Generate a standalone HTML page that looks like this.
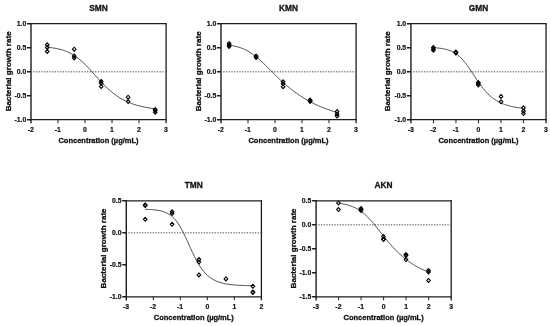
<!DOCTYPE html>
<html><head><meta charset="utf-8"><title>Dose response curves</title>
<style>html,body{margin:0;padding:0;background:#fff}body{width:550px;height:326px;overflow:hidden}</style></head>
<body>
<svg width="550" height="326" viewBox="0 0 550 326" style="display:block;filter:blur(0.32px);font-family:'Liberation Sans',sans-serif;font-weight:bold" fill="#111" stroke="#111" stroke-width="0">
<rect width="550" height="326" fill="#fff"/>
<g>
<line x1="33.2" y1="71.80" x2="165.5" y2="71.80" stroke="#808080" stroke-width="1.5" stroke-dasharray="1.25 1.44"/>
<path d="M47.20 47.23 L49.03 47.42 L50.85 47.64 L52.68 47.89 L54.51 48.18 L56.34 48.51 L58.16 48.89 L59.99 49.33 L61.82 49.83 L63.64 50.41 L65.47 51.05 L67.30 51.79 L69.13 52.61 L70.95 53.54 L72.78 54.57 L74.61 55.71 L76.43 56.96 L78.26 58.33 L80.09 59.81 L81.92 61.41 L83.74 63.11 L85.57 64.90 L87.40 66.78 L89.22 68.73 L91.05 70.73 L92.88 72.77 L94.71 74.82 L96.53 76.87 L98.36 78.91 L100.19 80.91 L102.01 82.87 L103.84 84.76 L105.67 86.58 L107.49 88.33 L109.32 89.99 L111.15 91.56 L112.98 93.05 L114.80 94.45 L116.63 95.75 L118.46 96.97 L120.28 98.11 L122.11 99.17 L123.94 100.15 L125.77 101.05 L127.59 101.89 L129.42 102.66 L131.25 103.38 L133.07 104.03 L134.90 104.64 L136.73 105.19 L138.56 105.70 L140.38 106.17 L142.21 106.60 L144.04 107.00 L145.86 107.36 L147.69 107.69 L149.52 108.00 L151.35 108.28 L153.17 108.53 L155.00 108.77" fill="none" stroke="#484848" stroke-width="0.95"/>
<path d="M47.2 42.85L49.00 44.8L47.2 46.75L45.40 44.8Z" fill="none" stroke="#000" stroke-width="1.1"/>
<path d="M47.2 45.45L49.00 47.4L47.2 49.35L45.40 47.4Z" fill="none" stroke="#000" stroke-width="1.1"/>
<path d="M47.2 49.45L49.00 51.4L47.2 53.35L45.40 51.4Z" fill="none" stroke="#000" stroke-width="1.1"/>
<path d="M74.2 47.25L76.00 49.2L74.2 51.15L72.40 49.2Z" fill="none" stroke="#000" stroke-width="1.1"/>
<path d="M74.2 54.05L76.00 56.0L74.2 57.95L72.40 56.0Z" fill="none" stroke="#000" stroke-width="1.1"/>
<path d="M74.2 55.95L76.00 57.9L74.2 59.85L72.40 57.9Z" fill="none" stroke="#000" stroke-width="1.1"/>
<path d="M101.2 79.45L103.00 81.4L101.2 83.35L99.40 81.4Z" fill="none" stroke="#000" stroke-width="1.1"/>
<path d="M101.2 81.35L103.00 83.3L101.2 85.25L99.40 83.3Z" fill="none" stroke="#000" stroke-width="1.1"/>
<path d="M101.2 84.55L103.00 86.5L101.2 88.45L99.40 86.5Z" fill="none" stroke="#000" stroke-width="1.1"/>
<path d="M128.1 95.25L129.90 97.2L128.1 99.15L126.30 97.2Z" fill="none" stroke="#000" stroke-width="1.1"/>
<path d="M128.1 99.65L129.90 101.6L128.1 103.55L126.30 101.6Z" fill="none" stroke="#000" stroke-width="1.1"/>
<path d="M155.2 107.55L157.00 109.5L155.2 111.45L153.40 109.5Z" fill="none" stroke="#000" stroke-width="1.1"/>
<path d="M155.2 108.65L157.00 110.6L155.2 112.55L153.40 110.6Z" fill="none" stroke="#000" stroke-width="1.1"/>
<path d="M155.2 110.25L157.00 112.2L155.2 114.15L153.40 112.2Z" fill="none" stroke="#000" stroke-width="1.1"/>
<path d="M30.40 23.72H166.60" stroke="#1c1c1c" stroke-width="1.25" fill="none"/>
<path d="M30.40 119.72H166.60" stroke="#1c1c1c" stroke-width="1.25" fill="none"/>
<path d="M31.00 23.22V123.3" stroke="#1c1c1c" stroke-width="1.4" fill="none"/>
<path d="M166.10 23.22V123.3" stroke="#1c1c1c" stroke-width="1.3" fill="none"/>
<path d="M27.0 23.72H31.0M27.0 47.72H31.0M27.0 71.72H31.0M27.0 95.72H31.0M27.0 119.72H31.0" stroke="#1c1c1c" stroke-width="1.35" fill="none"/>
<path d="M58.00 119.72V123.22M85.00 119.72V123.22M112.00 119.72V123.22M139.00 119.72V123.22" stroke="#2a2a2a" stroke-width="1.05" fill="none"/>
<text transform="translate(26.20 26.07) scale(0.9375 1)" font-size="7.3" text-anchor="end" stroke-width="0.22">1.0</text>
<text transform="translate(26.20 50.07) scale(0.9375 1)" font-size="7.3" text-anchor="end" stroke-width="0.22">0.5</text>
<text transform="translate(26.20 74.07) scale(0.9375 1)" font-size="7.3" text-anchor="end" stroke-width="0.22">0.0</text>
<text transform="translate(26.20 98.07) scale(0.9375 1)" font-size="7.3" text-anchor="end" stroke-width="0.22">-0.5</text>
<text transform="translate(26.20 122.07) scale(0.9375 1)" font-size="7.3" text-anchor="end" stroke-width="0.22">-1.0</text>
<text transform="translate(30.80 131.72) scale(0.9375 1)" font-size="7.3" text-anchor="middle" stroke-width="0.22">-2</text>
<text transform="translate(57.80 131.72) scale(0.9375 1)" font-size="7.3" text-anchor="middle" stroke-width="0.22">-1</text>
<text transform="translate(85.00 131.72) scale(0.9375 1)" font-size="7.3" text-anchor="middle" stroke-width="0.22">0</text>
<text transform="translate(112.00 131.72) scale(0.9375 1)" font-size="7.3" text-anchor="middle" stroke-width="0.22">1</text>
<text transform="translate(139.00 131.72) scale(0.9375 1)" font-size="7.3" text-anchor="middle" stroke-width="0.22">2</text>
<text transform="translate(166.00 131.72) scale(0.9375 1)" font-size="7.3" text-anchor="middle" stroke-width="0.22">3</text>
<text transform="translate(98.50 143.22) scale(0.9375 1)" font-size="8.0" text-anchor="middle" stroke-width="0.3">Concentration (µg/mL)</text>
<text transform="translate(10.50 71.37) rotate(-90) scale(1 0.97)" font-size="8.05" text-anchor="middle" stroke-width="0.3">Bacterial growth rate</text>
<text transform="translate(98.50 10.77) scale(0.9375 1)" font-size="8.9" text-anchor="middle" stroke-width="0.3">SMN</text>
</g>
<g>
<line x1="223.2" y1="71.80" x2="355.5" y2="71.80" stroke="#808080" stroke-width="1.5" stroke-dasharray="1.25 1.44"/>
<path d="M229.00 45.09 L230.83 45.37 L232.66 45.70 L234.49 46.07 L236.32 46.51 L238.15 47.01 L239.98 47.59 L241.81 48.25 L243.64 48.99 L245.47 49.83 L247.31 50.78 L249.14 51.82 L250.97 52.97 L252.80 54.22 L254.63 55.58 L256.46 57.03 L258.29 58.57 L260.12 60.19 L261.95 61.87 L263.78 63.61 L265.61 65.40 L267.44 67.21 L269.27 69.04 L271.10 70.88 L272.93 72.71 L274.76 74.53 L276.59 76.33 L278.42 78.10 L280.25 79.83 L282.08 81.53 L283.92 83.18 L285.75 84.79 L287.58 86.35 L289.41 87.86 L291.24 89.32 L293.07 90.74 L294.90 92.10 L296.73 93.42 L298.56 94.69 L300.39 95.91 L302.22 97.09 L304.05 98.22 L305.88 99.31 L307.71 100.36 L309.54 101.37 L311.37 102.34 L313.20 103.27 L315.03 104.17 L316.86 105.03 L318.69 105.86 L320.53 106.65 L322.36 107.41 L324.19 108.14 L326.02 108.85 L327.85 109.52 L329.68 110.17 L331.51 110.80 L333.34 111.39 L335.17 111.97 L337.00 112.52" fill="none" stroke="#484848" stroke-width="0.95"/>
<path d="M229.1 41.55L230.90 43.5L229.1 45.45L227.30 43.5Z" fill="none" stroke="#000" stroke-width="1.1"/>
<path d="M229.1 43.05L230.90 45.0L229.1 46.95L227.30 45.0Z" fill="none" stroke="#000" stroke-width="1.1"/>
<path d="M229.1 44.55L230.90 46.5L229.1 48.45L227.30 46.5Z" fill="none" stroke="#000" stroke-width="1.1"/>
<path d="M256.1 54.05L257.90 56.0L256.1 57.95L254.30 56.0Z" fill="none" stroke="#000" stroke-width="1.1"/>
<path d="M256.1 54.85L257.90 56.8L256.1 58.75L254.30 56.8Z" fill="none" stroke="#000" stroke-width="1.1"/>
<path d="M256.1 55.65L257.90 57.6L256.1 59.55L254.30 57.6Z" fill="none" stroke="#000" stroke-width="1.1"/>
<path d="M283.1 79.85L284.90 81.8L283.1 83.75L281.30 81.8Z" fill="none" stroke="#000" stroke-width="1.1"/>
<path d="M283.1 81.75L284.90 83.7L283.1 85.65L281.30 83.7Z" fill="none" stroke="#000" stroke-width="1.1"/>
<path d="M283.1 84.75L284.90 86.7L283.1 88.65L281.30 86.7Z" fill="none" stroke="#000" stroke-width="1.1"/>
<path d="M310.1 98.05L311.90 100.0L310.1 101.95L308.30 100.0Z" fill="none" stroke="#000" stroke-width="1.1"/>
<path d="M310.1 98.85L311.90 100.8L310.1 102.75L308.30 100.8Z" fill="none" stroke="#000" stroke-width="1.1"/>
<path d="M310.1 99.65L311.90 101.6L310.1 103.55L308.30 101.6Z" fill="none" stroke="#000" stroke-width="1.1"/>
<path d="M337.1 109.55L338.90 111.5L337.1 113.45L335.30 111.5Z" fill="none" stroke="#000" stroke-width="1.1"/>
<path d="M337.1 112.05L338.90 114.0L337.1 115.95L335.30 114.0Z" fill="none" stroke="#000" stroke-width="1.1"/>
<path d="M337.1 114.05L338.90 116.0L337.1 117.95L335.30 116.0Z" fill="none" stroke="#000" stroke-width="1.1"/>
<path d="M220.40 23.72H356.60" stroke="#1c1c1c" stroke-width="1.25" fill="none"/>
<path d="M220.40 119.72H356.60" stroke="#1c1c1c" stroke-width="1.25" fill="none"/>
<path d="M221.00 23.22V123.3" stroke="#1c1c1c" stroke-width="1.4" fill="none"/>
<path d="M356.10 23.22V123.3" stroke="#1c1c1c" stroke-width="1.3" fill="none"/>
<path d="M217.0 23.72H221.0M217.0 47.72H221.0M217.0 71.72H221.0M217.0 95.72H221.0M217.0 119.72H221.0" stroke="#1c1c1c" stroke-width="1.35" fill="none"/>
<path d="M248.00 119.72V123.22M275.00 119.72V123.22M302.00 119.72V123.22M329.00 119.72V123.22" stroke="#2a2a2a" stroke-width="1.05" fill="none"/>
<text transform="translate(216.20 26.07) scale(0.9375 1)" font-size="7.3" text-anchor="end" stroke-width="0.22">1.0</text>
<text transform="translate(216.20 50.07) scale(0.9375 1)" font-size="7.3" text-anchor="end" stroke-width="0.22">0.5</text>
<text transform="translate(216.20 74.07) scale(0.9375 1)" font-size="7.3" text-anchor="end" stroke-width="0.22">0.0</text>
<text transform="translate(216.20 98.07) scale(0.9375 1)" font-size="7.3" text-anchor="end" stroke-width="0.22">-0.5</text>
<text transform="translate(216.20 122.07) scale(0.9375 1)" font-size="7.3" text-anchor="end" stroke-width="0.22">-1.0</text>
<text transform="translate(220.80 131.72) scale(0.9375 1)" font-size="7.3" text-anchor="middle" stroke-width="0.22">-2</text>
<text transform="translate(247.80 131.72) scale(0.9375 1)" font-size="7.3" text-anchor="middle" stroke-width="0.22">-1</text>
<text transform="translate(275.00 131.72) scale(0.9375 1)" font-size="7.3" text-anchor="middle" stroke-width="0.22">0</text>
<text transform="translate(302.00 131.72) scale(0.9375 1)" font-size="7.3" text-anchor="middle" stroke-width="0.22">1</text>
<text transform="translate(329.00 131.72) scale(0.9375 1)" font-size="7.3" text-anchor="middle" stroke-width="0.22">2</text>
<text transform="translate(356.00 131.72) scale(0.9375 1)" font-size="7.3" text-anchor="middle" stroke-width="0.22">3</text>
<text transform="translate(288.50 143.22) scale(0.9375 1)" font-size="8.0" text-anchor="middle" stroke-width="0.3">Concentration (µg/mL)</text>
<text transform="translate(200.50 71.37) rotate(-90) scale(1 0.97)" font-size="8.05" text-anchor="middle" stroke-width="0.3">Bacterial growth rate</text>
<text transform="translate(288.50 10.77) scale(0.9375 1)" font-size="8.9" text-anchor="middle" stroke-width="0.3">KMN</text>
</g>
<g>
<line x1="413.1" y1="71.80" x2="545.5" y2="71.80" stroke="#808080" stroke-width="1.5" stroke-dasharray="1.25 1.44"/>
<path d="M433.30 47.65 L434.81 47.75 L436.32 47.87 L437.84 48.01 L439.35 48.18 L440.86 48.37 L442.37 48.61 L443.88 48.89 L445.39 49.22 L446.91 49.61 L448.42 50.07 L449.93 50.60 L451.44 51.23 L452.95 51.96 L454.47 52.79 L455.98 53.76 L457.49 54.85 L459.00 56.09 L460.51 57.48 L462.03 59.02 L463.54 60.71 L465.05 62.55 L466.56 64.52 L468.07 66.60 L469.58 68.78 L471.10 71.04 L472.61 73.34 L474.12 75.65 L475.63 77.95 L477.14 80.22 L478.66 82.42 L480.17 84.55 L481.68 86.58 L483.19 88.51 L484.70 90.32 L486.22 92.02 L487.73 93.60 L489.24 95.06 L490.75 96.41 L492.26 97.65 L493.77 98.79 L495.29 99.83 L496.80 100.77 L498.31 101.63 L499.82 102.42 L501.33 103.13 L502.85 103.77 L504.36 104.36 L505.87 104.88 L507.38 105.36 L508.89 105.79 L510.41 106.18 L511.92 106.54 L513.43 106.86 L514.94 107.14 L516.45 107.40 L517.96 107.64 L519.48 107.85 L520.99 108.04 L522.50 108.21" fill="none" stroke="#484848" stroke-width="0.95"/>
<path d="M433.4 45.65L435.20 47.6L433.4 49.55L431.60 47.6Z" fill="none" stroke="#000" stroke-width="1.1"/>
<path d="M433.4 47.05L435.20 49.0L433.4 50.95L431.60 49.0Z" fill="none" stroke="#000" stroke-width="1.1"/>
<path d="M433.4 48.25L435.20 50.2L433.4 52.15L431.60 50.2Z" fill="none" stroke="#000" stroke-width="1.1"/>
<path d="M455.9 50.15L457.70 52.1L455.9 54.05L454.10 52.1Z" fill="none" stroke="#000" stroke-width="1.1"/>
<path d="M455.9 50.65L457.70 52.6L455.9 54.55L454.10 52.6Z" fill="none" stroke="#000" stroke-width="1.1"/>
<path d="M455.9 51.05L457.70 53.0L455.9 54.95L454.10 53.0Z" fill="none" stroke="#000" stroke-width="1.1"/>
<path d="M478.3 80.65L480.10 82.6L478.3 84.55L476.50 82.6Z" fill="none" stroke="#000" stroke-width="1.1"/>
<path d="M478.3 81.85L480.10 83.8L478.3 85.75L476.50 83.8Z" fill="none" stroke="#000" stroke-width="1.1"/>
<path d="M478.3 83.05L480.10 85.0L478.3 86.95L476.50 85.0Z" fill="none" stroke="#000" stroke-width="1.1"/>
<path d="M501.0 94.45L502.80 96.4L501.0 98.35L499.20 96.4Z" fill="none" stroke="#000" stroke-width="1.1"/>
<path d="M501.0 99.85L502.80 101.8L501.0 103.75L499.20 101.8Z" fill="none" stroke="#000" stroke-width="1.1"/>
<path d="M523.5 105.85L525.30 107.8L523.5 109.75L521.70 107.8Z" fill="none" stroke="#000" stroke-width="1.1"/>
<path d="M523.5 109.15L525.30 111.1L523.5 113.05L521.70 111.1Z" fill="none" stroke="#000" stroke-width="1.1"/>
<path d="M523.5 111.65L525.30 113.6L523.5 115.55L521.70 113.6Z" fill="none" stroke="#000" stroke-width="1.1"/>
<path d="M410.35 23.72H546.55" stroke="#1c1c1c" stroke-width="1.25" fill="none"/>
<path d="M410.35 119.72H546.55" stroke="#1c1c1c" stroke-width="1.25" fill="none"/>
<path d="M410.95 23.22V123.3" stroke="#1c1c1c" stroke-width="1.4" fill="none"/>
<path d="M546.05 23.22V123.3" stroke="#1c1c1c" stroke-width="1.3" fill="none"/>
<path d="M406.9 23.72H410.95M406.9 47.72H410.95M406.9 71.72H410.95M406.9 95.72H410.95M406.9 119.72H410.95" stroke="#1c1c1c" stroke-width="1.35" fill="none"/>
<path d="M433.45 119.72V123.22M455.95 119.72V123.22M478.45 119.72V123.22M500.95 119.72V123.22M523.45 119.72V123.22" stroke="#2a2a2a" stroke-width="1.05" fill="none"/>
<text transform="translate(406.15 26.07) scale(0.9375 1)" font-size="7.3" text-anchor="end" stroke-width="0.22">1.0</text>
<text transform="translate(406.15 50.07) scale(0.9375 1)" font-size="7.3" text-anchor="end" stroke-width="0.22">0.5</text>
<text transform="translate(406.15 74.07) scale(0.9375 1)" font-size="7.3" text-anchor="end" stroke-width="0.22">0.0</text>
<text transform="translate(406.15 98.07) scale(0.9375 1)" font-size="7.3" text-anchor="end" stroke-width="0.22">-0.5</text>
<text transform="translate(406.15 122.07) scale(0.9375 1)" font-size="7.3" text-anchor="end" stroke-width="0.22">-1.0</text>
<text transform="translate(410.75 131.72) scale(0.9375 1)" font-size="7.3" text-anchor="middle" stroke-width="0.22">-3</text>
<text transform="translate(433.25 131.72) scale(0.9375 1)" font-size="7.3" text-anchor="middle" stroke-width="0.22">-2</text>
<text transform="translate(455.75 131.72) scale(0.9375 1)" font-size="7.3" text-anchor="middle" stroke-width="0.22">-1</text>
<text transform="translate(478.45 131.72) scale(0.9375 1)" font-size="7.3" text-anchor="middle" stroke-width="0.22">0</text>
<text transform="translate(500.95 131.72) scale(0.9375 1)" font-size="7.3" text-anchor="middle" stroke-width="0.22">1</text>
<text transform="translate(523.45 131.72) scale(0.9375 1)" font-size="7.3" text-anchor="middle" stroke-width="0.22">2</text>
<text transform="translate(545.95 131.72) scale(0.9375 1)" font-size="7.3" text-anchor="middle" stroke-width="0.22">3</text>
<text transform="translate(478.45 143.22) scale(0.9375 1)" font-size="8.0" text-anchor="middle" stroke-width="0.3">Concentration (µg/mL)</text>
<text transform="translate(390.45 71.37) rotate(-90) scale(1 0.97)" font-size="8.05" text-anchor="middle" stroke-width="0.3">Bacterial growth rate</text>
<text transform="translate(478.45 10.77) scale(0.9375 1)" font-size="8.9" text-anchor="middle" stroke-width="0.3">GMN</text>
</g>
<g>
<line x1="128.5" y1="232.83" x2="260.8" y2="232.83" stroke="#808080" stroke-width="1.5" stroke-dasharray="1.25 1.44"/>
<path d="M145.10 209.29 L146.93 209.36 L148.75 209.44 L150.58 209.54 L152.41 209.68 L154.24 209.84 L156.06 210.06 L157.89 210.32 L159.72 210.66 L161.54 211.08 L163.37 211.61 L165.20 212.28 L167.03 213.10 L168.85 214.11 L170.68 215.34 L172.51 216.85 L174.33 218.65 L176.16 220.78 L177.99 223.26 L179.82 226.11 L181.64 229.31 L183.47 232.83 L185.30 236.61 L187.12 240.57 L188.95 244.63 L190.78 248.69 L192.61 252.66 L194.43 256.45 L196.26 260.00 L198.09 263.28 L199.91 266.25 L201.74 268.92 L203.57 271.28 L205.39 273.36 L207.22 275.17 L209.05 276.74 L210.88 278.10 L212.70 279.26 L214.53 280.25 L216.36 281.11 L218.18 281.83 L220.01 282.45 L221.84 282.97 L223.67 283.42 L225.49 283.80 L227.32 284.12 L229.15 284.39 L230.97 284.62 L232.80 284.82 L234.63 284.98 L236.46 285.12 L238.28 285.24 L240.11 285.34 L241.94 285.43 L243.76 285.50 L245.59 285.56 L247.42 285.61 L249.25 285.65 L251.07 285.69 L252.90 285.72" fill="none" stroke="#484848" stroke-width="0.95"/>
<path d="M145.2 202.95L147.00 204.9L145.2 206.85L143.40 204.9Z" fill="none" stroke="#000" stroke-width="1.1"/>
<path d="M145.2 203.55L147.00 205.5L145.2 207.45L143.40 205.5Z" fill="none" stroke="#000" stroke-width="1.1"/>
<path d="M145.2 217.35L147.00 219.3L145.2 221.25L143.40 219.3Z" fill="none" stroke="#000" stroke-width="1.1"/>
<path d="M172.1 209.85L173.90 211.8L172.1 213.75L170.30 211.8Z" fill="none" stroke="#000" stroke-width="1.1"/>
<path d="M172.1 211.65L173.90 213.6L172.1 215.55L170.30 213.6Z" fill="none" stroke="#000" stroke-width="1.1"/>
<path d="M172.1 222.35L173.90 224.3L172.1 226.25L170.30 224.3Z" fill="none" stroke="#000" stroke-width="1.1"/>
<path d="M198.9 257.45L200.70 259.4L198.9 261.35L197.10 259.4Z" fill="none" stroke="#000" stroke-width="1.1"/>
<path d="M198.9 260.05L200.70 262.0L198.9 263.95L197.10 262.0Z" fill="none" stroke="#000" stroke-width="1.1"/>
<path d="M198.9 272.95L200.70 274.9L198.9 276.85L197.10 274.9Z" fill="none" stroke="#000" stroke-width="1.1"/>
<path d="M225.9 276.95L227.70 278.9L225.9 280.85L224.10 278.9Z" fill="none" stroke="#000" stroke-width="1.1"/>
<path d="M252.9 284.35L254.70 286.3L252.9 288.25L251.10 286.3Z" fill="none" stroke="#000" stroke-width="1.1"/>
<path d="M252.9 290.15L254.70 292.1L252.9 294.05L251.10 292.1Z" fill="none" stroke="#000" stroke-width="1.1"/>
<path d="M252.9 290.55L254.70 292.5L252.9 294.45L251.10 292.5Z" fill="none" stroke="#000" stroke-width="1.1"/>
<path d="M125.70 200.75H261.90" stroke="#1c1c1c" stroke-width="1.25" fill="none"/>
<path d="M125.70 296.75H261.90" stroke="#1c1c1c" stroke-width="1.25" fill="none"/>
<path d="M126.30 200.25V300.4" stroke="#1c1c1c" stroke-width="1.4" fill="none"/>
<path d="M261.40 200.25V300.4" stroke="#1c1c1c" stroke-width="1.3" fill="none"/>
<path d="M122.3 200.75H126.3M122.3 232.75H126.3M122.3 264.75H126.3M122.3 296.75H126.3" stroke="#1c1c1c" stroke-width="1.35" fill="none"/>
<path d="M153.30 296.75V300.25M180.30 296.75V300.25M207.30 296.75V300.25M234.30 296.75V300.25" stroke="#2a2a2a" stroke-width="1.05" fill="none"/>
<text transform="translate(121.50 203.10) scale(0.9375 1)" font-size="7.3" text-anchor="end" stroke-width="0.22">0.5</text>
<text transform="translate(121.50 235.10) scale(0.9375 1)" font-size="7.3" text-anchor="end" stroke-width="0.22">0.0</text>
<text transform="translate(121.50 267.10) scale(0.9375 1)" font-size="7.3" text-anchor="end" stroke-width="0.22">-0.5</text>
<text transform="translate(121.50 299.10) scale(0.9375 1)" font-size="7.3" text-anchor="end" stroke-width="0.22">-1.0</text>
<text transform="translate(126.10 308.75) scale(0.9375 1)" font-size="7.3" text-anchor="middle" stroke-width="0.22">-3</text>
<text transform="translate(153.10 308.75) scale(0.9375 1)" font-size="7.3" text-anchor="middle" stroke-width="0.22">-2</text>
<text transform="translate(180.10 308.75) scale(0.9375 1)" font-size="7.3" text-anchor="middle" stroke-width="0.22">-1</text>
<text transform="translate(207.30 308.75) scale(0.9375 1)" font-size="7.3" text-anchor="middle" stroke-width="0.22">0</text>
<text transform="translate(234.30 308.75) scale(0.9375 1)" font-size="7.3" text-anchor="middle" stroke-width="0.22">1</text>
<text transform="translate(261.30 308.75) scale(0.9375 1)" font-size="7.3" text-anchor="middle" stroke-width="0.22">2</text>
<text transform="translate(193.80 320.25) scale(0.9375 1)" font-size="8.0" text-anchor="middle" stroke-width="0.3">Concentration (µg/mL)</text>
<text transform="translate(105.80 248.40) rotate(-90) scale(1 0.97)" font-size="8.05" text-anchor="middle" stroke-width="0.3">Bacterial growth rate</text>
<text transform="translate(193.80 187.80) scale(0.9375 1)" font-size="8.9" text-anchor="middle" stroke-width="0.3">TMN</text>
</g>
<g>
<line x1="318.3" y1="224.83" x2="450.6" y2="224.83" stroke="#808080" stroke-width="1.5" stroke-dasharray="1.25 1.44"/>
<path d="M338.60 203.28 L340.12 203.48 L341.65 203.71 L343.17 203.98 L344.69 204.28 L346.22 204.63 L347.74 205.02 L349.27 205.47 L350.79 205.98 L352.31 206.55 L353.84 207.20 L355.36 207.92 L356.88 208.72 L358.41 209.62 L359.93 210.60 L361.46 211.69 L362.98 212.87 L364.50 214.14 L366.03 215.52 L367.55 216.99 L369.07 218.55 L370.60 220.19 L372.12 221.90 L373.65 223.68 L375.17 225.52 L376.69 227.39 L378.22 229.30 L379.74 231.22 L381.26 233.15 L382.79 235.07 L384.31 236.98 L385.84 238.87 L387.36 240.73 L388.88 242.55 L390.41 244.33 L391.93 246.05 L393.45 247.73 L394.98 249.35 L396.50 250.92 L398.03 252.43 L399.55 253.89 L401.07 255.28 L402.60 256.62 L404.12 257.90 L405.64 259.13 L407.17 260.31 L408.69 261.43 L410.22 262.50 L411.74 263.53 L413.26 264.50 L414.79 265.43 L416.31 266.32 L417.83 267.16 L419.36 267.97 L420.88 268.74 L422.41 269.47 L423.93 270.16 L425.45 270.82 L426.98 271.45 L428.50 272.05" fill="none" stroke="#484848" stroke-width="0.95"/>
<path d="M338.5 201.05L340.30 203.0L338.5 204.95L336.70 203.0Z" fill="none" stroke="#000" stroke-width="1.1"/>
<path d="M338.5 207.65L340.30 209.6L338.5 211.55L336.70 209.6Z" fill="none" stroke="#000" stroke-width="1.1"/>
<path d="M361.0 206.55L362.80 208.5L361.0 210.45L359.20 208.5Z" fill="none" stroke="#000" stroke-width="1.1"/>
<path d="M361.0 207.65L362.80 209.6L361.0 211.55L359.20 209.6Z" fill="none" stroke="#000" stroke-width="1.1"/>
<path d="M361.0 208.55L362.80 210.5L361.0 212.45L359.20 210.5Z" fill="none" stroke="#000" stroke-width="1.1"/>
<path d="M383.5 234.55L385.30 236.5L383.5 238.45L381.70 236.5Z" fill="none" stroke="#000" stroke-width="1.1"/>
<path d="M383.5 237.15L385.30 239.1L383.5 241.05L381.70 239.1Z" fill="none" stroke="#000" stroke-width="1.1"/>
<path d="M383.5 237.55L385.30 239.5L383.5 241.45L381.70 239.5Z" fill="none" stroke="#000" stroke-width="1.1"/>
<path d="M406.0 252.65L407.80 254.6L406.0 256.55L404.20 254.6Z" fill="none" stroke="#000" stroke-width="1.1"/>
<path d="M406.0 253.45L407.80 255.4L406.0 257.35L404.20 255.4Z" fill="none" stroke="#000" stroke-width="1.1"/>
<path d="M406.0 257.65L407.80 259.6L406.0 261.55L404.20 259.6Z" fill="none" stroke="#000" stroke-width="1.1"/>
<path d="M428.5 268.55L430.30 270.5L428.5 272.45L426.70 270.5Z" fill="none" stroke="#000" stroke-width="1.1"/>
<path d="M428.5 269.95L430.30 271.9L428.5 273.85L426.70 271.9Z" fill="none" stroke="#000" stroke-width="1.1"/>
<path d="M428.5 278.55L430.30 280.5L428.5 282.45L426.70 280.5Z" fill="none" stroke="#000" stroke-width="1.1"/>
<path d="M315.50 200.75H451.70" stroke="#1c1c1c" stroke-width="1.25" fill="none"/>
<path d="M315.50 296.75H451.70" stroke="#1c1c1c" stroke-width="1.25" fill="none"/>
<path d="M316.10 200.25V300.4" stroke="#1c1c1c" stroke-width="1.4" fill="none"/>
<path d="M451.20 200.25V300.4" stroke="#1c1c1c" stroke-width="1.3" fill="none"/>
<path d="M312.1 200.75H316.1M312.1 224.75H316.1M312.1 248.75H316.1M312.1 272.75H316.1M312.1 296.75H316.1" stroke="#1c1c1c" stroke-width="1.35" fill="none"/>
<path d="M338.60 296.75V300.25M361.10 296.75V300.25M383.60 296.75V300.25M406.10 296.75V300.25M428.60 296.75V300.25" stroke="#2a2a2a" stroke-width="1.05" fill="none"/>
<text transform="translate(311.30 203.10) scale(0.9375 1)" font-size="7.3" text-anchor="end" stroke-width="0.22">0.5</text>
<text transform="translate(311.30 227.10) scale(0.9375 1)" font-size="7.3" text-anchor="end" stroke-width="0.22">0.0</text>
<text transform="translate(311.30 251.10) scale(0.9375 1)" font-size="7.3" text-anchor="end" stroke-width="0.22">-0.5</text>
<text transform="translate(311.30 275.10) scale(0.9375 1)" font-size="7.3" text-anchor="end" stroke-width="0.22">-1.0</text>
<text transform="translate(311.30 299.10) scale(0.9375 1)" font-size="7.3" text-anchor="end" stroke-width="0.22">-1.5</text>
<text transform="translate(315.90 308.75) scale(0.9375 1)" font-size="7.3" text-anchor="middle" stroke-width="0.22">-3</text>
<text transform="translate(338.40 308.75) scale(0.9375 1)" font-size="7.3" text-anchor="middle" stroke-width="0.22">-2</text>
<text transform="translate(360.90 308.75) scale(0.9375 1)" font-size="7.3" text-anchor="middle" stroke-width="0.22">-1</text>
<text transform="translate(383.60 308.75) scale(0.9375 1)" font-size="7.3" text-anchor="middle" stroke-width="0.22">0</text>
<text transform="translate(406.10 308.75) scale(0.9375 1)" font-size="7.3" text-anchor="middle" stroke-width="0.22">1</text>
<text transform="translate(428.60 308.75) scale(0.9375 1)" font-size="7.3" text-anchor="middle" stroke-width="0.22">2</text>
<text transform="translate(451.10 308.75) scale(0.9375 1)" font-size="7.3" text-anchor="middle" stroke-width="0.22">3</text>
<text transform="translate(383.60 320.25) scale(0.9375 1)" font-size="8.0" text-anchor="middle" stroke-width="0.3">Concentration (µg/mL)</text>
<text transform="translate(295.60 248.40) rotate(-90) scale(1 0.97)" font-size="8.05" text-anchor="middle" stroke-width="0.3">Bacterial growth rate</text>
<text transform="translate(383.60 187.80) scale(0.9375 1)" font-size="8.9" text-anchor="middle" stroke-width="0.3">AKN</text>
</g>
</svg>
</body></html>
